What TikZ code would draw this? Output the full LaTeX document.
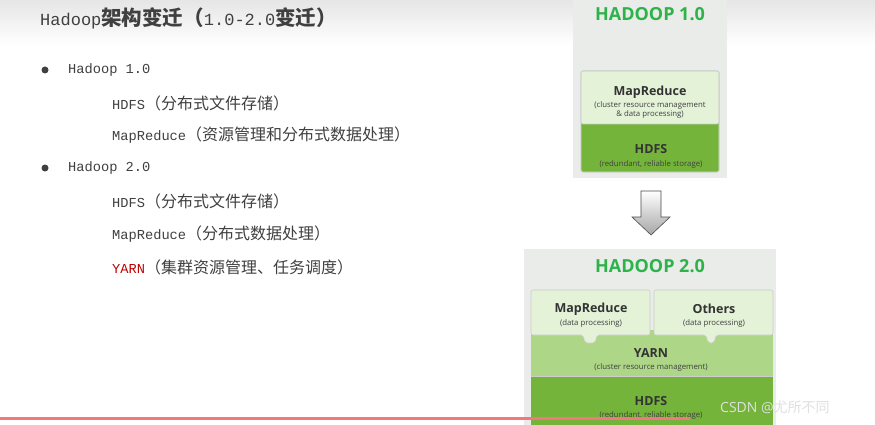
\documentclass[tikz,border=0pt]{standalone}
\usepackage{fontspec}
\setmainfont{Liberation Mono}
\newfontfamily\cjkf{Noto Sans CJK SC}
\newcommand{\cj}[1]{{\cjkf\fontsize{16}{16}\selectfont #1}}
\newcommand{\cjt}[1]{{\cjkf\bfseries\fontsize{20.5}{20.5}\selectfont #1}}
\newfontfamily\hsans{Open Sans}
\definecolor{hgreen}{HTML}{2DB34A}
\definecolor{lightg}{HTML}{E4F2D8}
\definecolor{midg}{HTML}{ADD686}
\definecolor{darkg}{HTML}{74B43A}
\definecolor{panel}{HTML}{E9ECE8}
\tikzset{
  txt/.style={anchor=west,inner sep=0pt,font=\fontsize{13.7}{13.7}\selectfont,text=black!75},
  ttl/.style={font=\hsans\bfseries\fontsize{18}{18}\selectfont,text=hgreen},
  bigl/.style={font=\hsans\bfseries\fontsize{12.5}{13}\selectfont,text=black!80,inner sep=0pt},
  smalll/.style={font=\hsans\fontsize{7.8}{9}\selectfont,text=black!75,inner sep=0pt,align=center},
  layer/.style={draw=black!20,line width=0.6pt,rounded corners=2pt},
}
\begin{document}
\begin{tikzpicture}[x=1pt,y=-1pt]
\useasboundingbox (0,0) rectangle (875,425);
\fill[white] (0,0) rectangle (875,425);
\shade[top color=black!10,bottom color=white] (0,0) rectangle (875,45);
% title
\node[txt,font=\fontsize{17}{17}\selectfont] (title) at (40,18) {Hadoop\cjt{架构变迁（}1.0-2.0\cjt{变迁）}};
\fill[black!75] (45,70) circle (3.5);
\fill[black!75] (45,168) circle (3.5);
\node[txt] (h1) at (68,70) {Hadoop 1.0};
\node[txt] (h1a) at (112,103) {HDFS\cj{（分布式文件存储）}};
\node[txt] (h1b) at (112,135) {MapReduce\cj{（资源管理和分布式数据处理）}};
\node[txt] (h2) at (68,168) {Hadoop 2.0};
\node[txt] (h2a) at (112,201) {HDFS\cj{（分布式文件存储）}};
\node[txt] (h2b) at (112,234) {MapReduce\cj{（分布式数据处理）}};
\node[txt] (h2c) at (112,267) {\textcolor{red!75!black}{YARN}\cj{（集群资源管理、任务调度）}};
% Hadoop 1.0 panel
\fill[panel] (573,0) rectangle (727,178);
\node[ttl] (t1) at (650,14) {HADOOP 1.0};
\fill[layer,fill=darkg] (581,71) rectangle (719,172);
\fill[layer,fill=lightg] (581,71) rectangle (719,124);
\draw[black!20] (581,71) [rounded corners=2pt] rectangle (719,172);
\node[bigl] (mr1) at (650,92) {MapReduce};
\node[smalll] (mr1s) at (650,110) {(cluster resource management\\\& data processing)};
\node[bigl] (hd1) at (651,149) {HDFS};
\node[smalll] (hd1s) at (651,164) {(redundant, reliable storage)};
% arrow
\shade[top color=white,bottom color=black!35,draw=black!70,line width=0.6pt]
  (641,191) -- (661,191) -- (661,217) -- (670,217) -- (651,235) -- (632,217) -- (641,217) -- cycle;
% Hadoop 2.0 panel
\fill[panel] (524,249) rectangle (776,425);
\node[ttl] (t2) at (650,266) {HADOOP 2.0};
\fill[darkg] (531,376) rectangle (773,425);
\fill[midg] (531,330) rectangle (773,376);
\draw[black!20] (531,376) -- (773,376);
\draw[layer,fill=lightg] (531,290) -- (650,290) -- (650,335) -- (597,335) -- (595,343) -- (585,343) -- (583,335) -- (531,335) -- cycle;
\draw[layer,fill=lightg] (654,290) -- (773,290) -- (773,335) -- (716,335) -- (714,343) -- (708,343) -- (706,335) -- (654,335) -- cycle;
\node[bigl] (mr2) at (591,309) {MapReduce};
\node[smalll] (mr2s) at (591,323) {(data processing)};
\node[bigl] (ot2) at (714,309) {Others};
\node[smalll] (ot2s) at (714,323) {(data processing)};
\node[bigl] (yarn) at (651,353) {YARN};
\node[smalll] (yarns) at (651,367) {(cluster resource management)};
\node[bigl] (hd2) at (651,401) {HDFS};
\node[smalll] (hd2s) at (651,415) {(redundant, reliable storage)};
% bottom bar and watermark
\fill[magenta!30!red!55] (0,417) rectangle (690,420);
\node[font=\hsans\fontsize{14}{14}\selectfont,text=black!12,anchor=west,inner sep=0pt] (wm) at (720,407) {CSDN @{\cjkf 尤所不同}};
\end{tikzpicture}
\end{document}
